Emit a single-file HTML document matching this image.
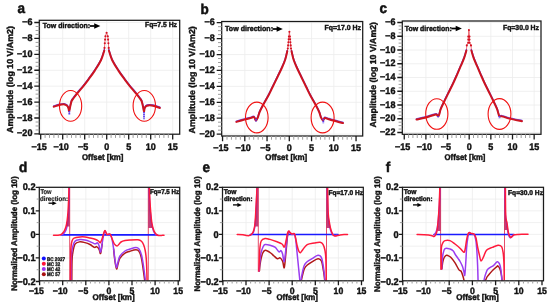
<!DOCTYPE html>
<html><head><meta charset="utf-8"><title>figure</title><style>html,body{margin:0;padding:0;background:#fff;width:550px;height:306px;overflow:hidden}svg{display:block;filter:blur(0.3px)}text{font-family:"Liberation Sans",Arial,sans-serif;font-weight:bold;fill:#111;stroke:#111;stroke-width:0.4px;paint-order:stroke;text-rendering:geometricPrecision}</style></head><body>
<svg width="550" height="306" viewBox="0 0 550 306">
<rect width="550" height="306" fill="#fff"/>
<path d="M40.7,20.3 V134.2 M62.7,20.3 V134.2 M84.7,20.3 V134.2 M106.7,20.3 V134.2 M128.7,20.3 V134.2 M150.7,20.3 V134.2 M172.7,20.3 V134.2 M39.3,22.5 H179.7 M39.3,38.42 H179.7 M39.3,54.34 H179.7 M39.3,70.26 H179.7 M39.3,86.18 H179.7 M39.3,102.1 H179.7 M39.3,118.02 H179.7" stroke="#ececec" stroke-width="0.8" fill="none"/>
<path d="M244.8,21.5 V136 M267.05,21.5 V136 M289.3,21.5 V136 M311.55,21.5 V136 M333.8,21.5 V136 M356.05,21.5 V136 M221.7,22.7 H362.7 M221.7,38.62 H362.7 M221.7,54.54 H362.7 M221.7,70.46 H362.7 M221.7,86.38 H362.7 M221.7,102.3 H362.7 M221.7,118.22 H362.7 M221.7,134.14 H362.7" stroke="#ececec" stroke-width="0.8" fill="none"/>
<path d="M404.25,21 V134.3 M425.9,21 V134.3 M447.55,21 V134.3 M469.2,21 V134.3 M490.85,21 V134.3 M512.5,21 V134.3 M534.15,21 V134.3 M402.3,22.5 H541 M402.3,36.25 H541 M402.3,50 H541 M402.3,63.75 H541 M402.3,77.5 H541 M402.3,91.25 H541 M402.3,105 H541 M402.3,118.75 H541 M402.3,132.5 H541" stroke="#ececec" stroke-width="0.8" fill="none"/>
<path d="M62.7,187.3 V280.8 M85.8,187.3 V280.8 M108.9,187.3 V280.8 M132,187.3 V280.8 M155.1,187.3 V280.8 M178.2,187.3 V280.8 M39.3,199.08 H179.7 M39.3,210.85 H179.7 M39.3,222.62 H179.7 M39.3,234.4 H179.7 M39.3,246.18 H179.7 M39.3,257.95 H179.7 M39.3,269.73 H179.7" stroke="#ececec" stroke-width="0.8" fill="none"/>
<path d="M246,187.3 V280.8 M269.1,187.3 V280.8 M292.2,187.3 V280.8 M315.3,187.3 V280.8 M338.4,187.3 V280.8 M361.5,187.3 V280.8 M222.5,199.08 H363.3 M222.5,210.85 H363.3 M222.5,222.62 H363.3 M222.5,234.4 H363.3 M222.5,246.18 H363.3 M222.5,257.95 H363.3 M222.5,269.73 H363.3" stroke="#ececec" stroke-width="0.8" fill="none"/>
<path d="M426,187.3 V280.8 M449.2,187.3 V280.8 M472.4,187.3 V280.8 M495.6,187.3 V280.8 M518.8,187.3 V280.8 M542,187.3 V280.8 M402.5,199.08 H543.5 M402.5,210.85 H543.5 M402.5,222.62 H543.5 M402.5,234.4 H543.5 M402.5,246.18 H543.5 M402.5,257.95 H543.5 M402.5,269.73 H543.5" stroke="#ececec" stroke-width="0.8" fill="none"/>
<clipPath id="clipa"><rect x="39.3" y="20.3" width="140.4" height="113.9"/></clipPath>
<g clip-path="url(#clipa)" fill="none" stroke-linejoin="round" stroke-linecap="round">
<path d="M104.3,50.5 L104.5,47.9 L104.8,43.2 L105.1,39.6 L105.4,36.2 L106.6,32.7 L107.8,36.2 L108.1,39.6 L108.4,43.2 L108.7,47.9 L108.9,50.5" stroke="#e8505a" stroke-width="0.8"/>
<path d="M53.7,106.7C54.63,106.4 57.52,105.28 59.3,104.9C61.08,104.52 63.15,104.28 64.4,104.4C65.65,104.52 66.13,105 66.8,105.6C67.47,106.2 68,107.03 68.4,108C68.8,108.97 68.9,111.65 69.2,111.4C69.5,111.15 69.8,108.23 70.2,106.5C70.6,104.77 71.02,102.42 71.6,101C72.18,99.58 72.83,99.2 73.7,98C74.57,96.8 75.35,95.58 76.8,93.8C78.25,92.02 80.43,89.72 82.4,87.3C84.37,84.88 86.53,82.08 88.6,79.3C90.67,76.52 92.72,73.82 94.8,70.6C96.88,67.38 99.52,63.35 101.1,60C102.68,56.65 103.77,52.08 104.3,50.5" transform="translate(0,-0.7)" stroke="#7048e0" stroke-width="1.5"/>
<path d="M108.9,50.5C109.43,52.08 110.52,56.65 112.1,60C113.68,63.35 116.32,67.38 118.4,70.6C120.48,73.82 122.53,76.52 124.6,79.3C126.67,82.08 128.83,84.88 130.8,87.3C132.77,89.72 134.95,92.02 136.4,93.8C137.85,95.58 138.63,96.8 139.5,98C140.37,99.2 141.02,99.58 141.6,101C142.18,102.42 142.6,104.77 143,106.5C143.4,108.23 143.73,111.07 144,111.4C144.27,111.73 144.27,109.37 144.6,108.5C144.93,107.63 145.35,106.72 146,106.2C146.65,105.68 147.33,105.48 148.5,105.4C149.67,105.32 151.1,105.27 153,105.7C154.9,106.13 158.75,107.62 159.9,108" transform="translate(0,-0.7)" stroke="#7048e0" stroke-width="1.5"/>
<path d="M53.7,106.7C54.63,106.4 57.52,105.28 59.3,104.9C61.08,104.52 63.15,104.28 64.4,104.4C65.65,104.52 66.13,105 66.8,105.6C67.47,106.2 68,107.03 68.4,108C68.8,108.97 68.9,111.65 69.2,111.4C69.5,111.15 69.8,108.23 70.2,106.5C70.6,104.77 71.02,102.42 71.6,101C72.18,99.58 72.83,99.2 73.7,98C74.57,96.8 75.35,95.58 76.8,93.8C78.25,92.02 80.43,89.72 82.4,87.3C84.37,84.88 86.53,82.08 88.6,79.3C90.67,76.52 92.72,73.82 94.8,70.6C96.88,67.38 99.52,63.35 101.1,60C102.68,56.65 103.77,52.08 104.3,50.5" stroke="#cc1420" stroke-width="2.0"/>
<path d="M108.9,50.5C109.43,52.08 110.52,56.65 112.1,60C113.68,63.35 116.32,67.38 118.4,70.6C120.48,73.82 122.53,76.52 124.6,79.3C126.67,82.08 128.83,84.88 130.8,87.3C132.77,89.72 134.95,92.02 136.4,93.8C137.85,95.58 138.63,96.8 139.5,98C140.37,99.2 141.02,99.58 141.6,101C142.18,102.42 142.6,104.77 143,106.5C143.4,108.23 143.73,111.07 144,111.4C144.27,111.73 144.27,109.37 144.6,108.5C144.93,107.63 145.35,106.72 146,106.2C146.65,105.68 147.33,105.48 148.5,105.4C149.67,105.32 151.1,105.27 153,105.7C154.9,106.13 158.75,107.62 159.9,108" stroke="#cc1420" stroke-width="2.0"/>
<circle cx="104.5" cy="47.9" r="1.05" fill="#d41020"/>
<circle cx="104.8" cy="43.2" r="1.05" fill="#d41020"/>
<circle cx="105.1" cy="39.6" r="1.05" fill="#d41020"/>
<circle cx="105.4" cy="36.2" r="1.05" fill="#d41020"/>
<circle cx="106.6" cy="32.7" r="1.05" fill="#d41020"/>
<circle cx="107.8" cy="36.2" r="1.05" fill="#d41020"/>
<circle cx="108.1" cy="39.6" r="1.05" fill="#d41020"/>
<circle cx="108.4" cy="43.2" r="1.05" fill="#d41020"/>
<circle cx="108.7" cy="47.9" r="1.05" fill="#d41020"/>
<path d="M69.3,111 V115" stroke="#5a3cf0" stroke-width="1.8" stroke-dasharray="1.3 0.5" stroke-linecap="butt"/>
<path d="M144,112 V119.6" stroke="#5a3cf0" stroke-width="1.8" stroke-dasharray="1.3 0.5" stroke-linecap="butt"/>
</g>
<clipPath id="clipb"><rect x="221.7" y="21.5" width="141" height="114.5"/></clipPath>
<g clip-path="url(#clipb)" fill="none" stroke-linejoin="round" stroke-linecap="round">
<path d="M287.3,51.1 L287.8,48.5 L288.1,45.4 L288.4,42.2 L288.7,39.2 L288.9,36.5 L289.4,31.8 L289.9,36.5 L290.1,39.2 L290.4,42.2 L290.7,45.4 L291,48.5 L291.5,51.1" stroke="#e8505a" stroke-width="0.8"/>
<path d="M236.4,121.9C237.88,121.48 242.78,120.08 245.3,119.4C247.82,118.72 250.05,118.2 251.5,117.8C252.95,117.4 253.27,116.55 254,117C254.73,117.45 255.25,120.45 255.9,120.5C256.55,120.55 257.28,118.7 257.9,117.3C258.52,115.9 258.75,114.1 259.6,112.1C260.45,110.1 261.48,108.15 263,105.3C264.52,102.45 267.12,98 268.7,95C270.28,92 271.03,90.3 272.5,87.3C273.97,84.3 275.95,80.22 277.5,77C279.05,73.78 280.53,70.83 281.8,68C283.07,65.17 284.18,62.82 285.1,60C286.02,57.18 286.93,52.58 287.3,51.1" transform="translate(0,-0.7)" stroke="#7048e0" stroke-width="1.5"/>
<path d="M291.5,51.1C291.87,52.58 292.78,57.18 293.7,60C294.62,62.82 295.73,65.17 297,68C298.27,70.83 299.75,73.78 301.3,77C302.85,80.22 304.83,84.3 306.3,87.3C307.77,90.3 308.52,92 310.1,95C311.68,98 314.28,102.45 315.8,105.3C317.32,108.15 318.35,110.1 319.2,112.1C320.05,114.1 320.28,115.9 320.9,117.3C321.52,118.7 322.25,120.38 322.9,120.5C323.55,120.62 324.03,118.28 324.8,118C325.57,117.72 326.13,118.38 327.5,118.8C328.87,119.22 330.4,119.78 333,120.5C335.6,121.22 341.42,122.67 343.1,123.1" transform="translate(0,-0.7)" stroke="#7048e0" stroke-width="1.5"/>
<path d="M236.4,121.9C237.88,121.48 242.78,120.08 245.3,119.4C247.82,118.72 250.05,118.2 251.5,117.8C252.95,117.4 253.27,116.55 254,117C254.73,117.45 255.25,120.45 255.9,120.5C256.55,120.55 257.28,118.7 257.9,117.3C258.52,115.9 258.75,114.1 259.6,112.1C260.45,110.1 261.48,108.15 263,105.3C264.52,102.45 267.12,98 268.7,95C270.28,92 271.03,90.3 272.5,87.3C273.97,84.3 275.95,80.22 277.5,77C279.05,73.78 280.53,70.83 281.8,68C283.07,65.17 284.18,62.82 285.1,60C286.02,57.18 286.93,52.58 287.3,51.1" stroke="#cc1420" stroke-width="2.0"/>
<path d="M291.5,51.1C291.87,52.58 292.78,57.18 293.7,60C294.62,62.82 295.73,65.17 297,68C298.27,70.83 299.75,73.78 301.3,77C302.85,80.22 304.83,84.3 306.3,87.3C307.77,90.3 308.52,92 310.1,95C311.68,98 314.28,102.45 315.8,105.3C317.32,108.15 318.35,110.1 319.2,112.1C320.05,114.1 320.28,115.9 320.9,117.3C321.52,118.7 322.25,120.38 322.9,120.5C323.55,120.62 324.03,118.28 324.8,118C325.57,117.72 326.13,118.38 327.5,118.8C328.87,119.22 330.4,119.78 333,120.5C335.6,121.22 341.42,122.67 343.1,123.1" stroke="#cc1420" stroke-width="2.0"/>
<circle cx="287.8" cy="48.5" r="1.05" fill="#d41020"/>
<circle cx="288.1" cy="45.4" r="1.05" fill="#d41020"/>
<circle cx="288.4" cy="42.2" r="1.05" fill="#d41020"/>
<circle cx="288.7" cy="39.2" r="1.05" fill="#d41020"/>
<circle cx="288.9" cy="36.5" r="1.05" fill="#d41020"/>
<circle cx="289.4" cy="31.8" r="1.05" fill="#d41020"/>
<circle cx="289.9" cy="36.5" r="1.05" fill="#d41020"/>
<circle cx="290.1" cy="39.2" r="1.05" fill="#d41020"/>
<circle cx="290.4" cy="42.2" r="1.05" fill="#d41020"/>
<circle cx="290.7" cy="45.4" r="1.05" fill="#d41020"/>
<circle cx="291" cy="48.5" r="1.05" fill="#d41020"/>
<path d="M256,119 V121.5" stroke="#5a3cf0" stroke-width="1.8" stroke-dasharray="1.3 0.5" stroke-linecap="butt"/>
<path d="M323.3,119 V123.3" stroke="#5a3cf0" stroke-width="1.8" stroke-dasharray="1.3 0.5" stroke-linecap="butt"/>
</g>
<clipPath id="clipc"><rect x="402.3" y="21" width="138.7" height="113.3"/></clipPath>
<g clip-path="url(#clipc)" fill="none" stroke-linejoin="round" stroke-linecap="round">
<path d="M466.4,50.5 L466.8,45.4 L468.2,42.8 L468.3,39.6 L468.3,36.6 L468.9,30.1 L469.5,36.6 L469.5,39.6 L469.6,42.8 L471,45.4 L471.4,50.5" stroke="#e8505a" stroke-width="0.8"/>
<path d="M416.5,119.6C417.92,119.28 422.5,118.35 425,117.7C427.5,117.05 429.65,116.23 431.5,115.7C433.35,115.17 434.92,114.45 436.1,114.5C437.28,114.55 437.83,116.88 438.6,116C439.37,115.12 439.8,111.53 440.7,109.2C441.6,106.87 442.7,104.73 444,102C445.3,99.27 446.98,95.88 448.5,92.8C450.02,89.72 451.68,86.5 453.1,83.5C454.52,80.5 455.7,77.77 457,74.8C458.3,71.83 459.7,68.53 460.9,65.7C462.1,62.87 463.28,60.33 464.2,57.8C465.12,55.27 466.03,51.72 466.4,50.5" transform="translate(0,-0.7)" stroke="#7048e0" stroke-width="1.5"/>
<path d="M471.4,50.5C471.77,51.72 472.68,55.27 473.6,57.8C474.52,60.33 475.7,62.87 476.9,65.7C478.1,68.53 479.5,71.83 480.8,74.8C482.1,77.77 483.28,80.5 484.7,83.5C486.12,86.5 487.78,89.72 489.3,92.8C490.82,95.88 492.5,99.27 493.8,102C495.1,104.73 496.2,106.87 497.1,109.2C498,111.53 498.5,114.82 499.2,116C499.9,117.18 500.5,116.15 501.3,116.3C502.1,116.45 502.65,116.52 504,116.9C505.35,117.28 506.42,117.88 509.4,118.6C512.38,119.32 519.82,120.77 521.9,121.2" transform="translate(0,-0.7)" stroke="#7048e0" stroke-width="1.5"/>
<path d="M416.5,119.6C417.92,119.28 422.5,118.35 425,117.7C427.5,117.05 429.65,116.23 431.5,115.7C433.35,115.17 434.92,114.45 436.1,114.5C437.28,114.55 437.83,116.88 438.6,116C439.37,115.12 439.8,111.53 440.7,109.2C441.6,106.87 442.7,104.73 444,102C445.3,99.27 446.98,95.88 448.5,92.8C450.02,89.72 451.68,86.5 453.1,83.5C454.52,80.5 455.7,77.77 457,74.8C458.3,71.83 459.7,68.53 460.9,65.7C462.1,62.87 463.28,60.33 464.2,57.8C465.12,55.27 466.03,51.72 466.4,50.5" stroke="#cc1420" stroke-width="2.0"/>
<path d="M471.4,50.5C471.77,51.72 472.68,55.27 473.6,57.8C474.52,60.33 475.7,62.87 476.9,65.7C478.1,68.53 479.5,71.83 480.8,74.8C482.1,77.77 483.28,80.5 484.7,83.5C486.12,86.5 487.78,89.72 489.3,92.8C490.82,95.88 492.5,99.27 493.8,102C495.1,104.73 496.2,106.87 497.1,109.2C498,111.53 498.5,114.82 499.2,116C499.9,117.18 500.5,116.15 501.3,116.3C502.1,116.45 502.65,116.52 504,116.9C505.35,117.28 506.42,117.88 509.4,118.6C512.38,119.32 519.82,120.77 521.9,121.2" stroke="#cc1420" stroke-width="2.0"/>
<circle cx="466.8" cy="45.4" r="1.05" fill="#d41020"/>
<circle cx="468.2" cy="42.8" r="1.05" fill="#d41020"/>
<circle cx="468.3" cy="39.6" r="1.05" fill="#d41020"/>
<circle cx="468.3" cy="36.6" r="1.05" fill="#d41020"/>
<circle cx="468.9" cy="30.1" r="1.05" fill="#d41020"/>
<circle cx="469.5" cy="36.6" r="1.05" fill="#d41020"/>
<circle cx="469.5" cy="39.6" r="1.05" fill="#d41020"/>
<circle cx="469.6" cy="42.8" r="1.05" fill="#d41020"/>
<circle cx="471" cy="45.4" r="1.05" fill="#d41020"/>
<path d="M438,116 V117.5" stroke="#5a3cf0" stroke-width="1.8" stroke-dasharray="1.3 0.5" stroke-linecap="butt"/>
<path d="M499.4,116 V118.2" stroke="#5a3cf0" stroke-width="1.8" stroke-dasharray="1.3 0.5" stroke-linecap="butt"/>
</g>
<ellipse cx="70.6" cy="105.9" rx="11.1" ry="15.4" fill="none" stroke="#f01010" stroke-width="1.1"/>
<ellipse cx="144.3" cy="105.9" rx="11.2" ry="15.4" fill="none" stroke="#f01010" stroke-width="1.1"/>
<ellipse cx="256.8" cy="117.5" rx="11.3" ry="15.4" fill="none" stroke="#f01010" stroke-width="1.1"/>
<ellipse cx="322.6" cy="117.5" rx="11.5" ry="15.4" fill="none" stroke="#f01010" stroke-width="1.1"/>
<ellipse cx="436.8" cy="114" rx="11.1" ry="15.3" fill="none" stroke="#f01010" stroke-width="1.1"/>
<ellipse cx="499.5" cy="114" rx="11.4" ry="15.4" fill="none" stroke="#f01010" stroke-width="1.1"/>
<clipPath id="clipd"><rect x="39.3" y="187.6" width="140.4" height="92.9"/></clipPath>
<g clip-path="url(#clipd)" fill="none" stroke-linejoin="round" stroke-linecap="round">
<path d="M69.7,186 V282" stroke="#e23a5a" stroke-width="0.9"/>
<path d="M148.3,186 V282" stroke="#e23a5a" stroke-width="0.9"/>
<path d="M61,234.8 H157" stroke="#1a1aff" stroke-width="1.7"/>
<path d="M71.8,282C71.83,278.67 71.87,266.67 72,262C72.13,257.33 72.1,256.97 72.6,254C73.1,251.03 73.77,246.23 75,244.2C76.23,242.17 78.33,242.07 80,241.8C81.67,241.53 83.33,242.15 85,242.6C86.67,243.05 88.42,243.7 90,244.5C91.58,245.3 93.42,247.05 94.5,247.4C95.58,247.75 95.75,246.33 96.5,246.6C97.25,246.87 98.32,247.85 99,249C99.68,250.15 100.07,254.33 100.6,253.5C101.13,252.67 101.93,245.58 102.2,244" stroke="#b01818" stroke-width="1.5"/>
<path d="M113.6,249C113.83,251.08 114.5,258.17 115,261.5C115.5,264.83 116.1,268.58 116.6,269C117.1,269.42 117.43,265.8 118,264C118.57,262.2 118.83,260 120,258.2C121.17,256.4 123.33,254.37 125,253.2C126.67,252.03 128.17,251.77 130,251.2C131.83,250.63 134.5,249.77 136,249.8C137.5,249.83 138.12,250.12 139,251.4C139.88,252.68 140.63,254.73 141.3,257.5C141.97,260.27 142.4,263.92 143,268C143.6,272.08 144.58,279.67 144.9,282" stroke="#b01818" stroke-width="1.5"/>
<path d="M61.5,235C61.92,234.7 63.22,234.12 64,233.2C64.78,232.28 65.6,231.2 66.2,229.5C66.8,227.8 67.22,225.58 67.6,223C67.98,220.42 68.27,217.5 68.5,214C68.73,210.5 68.87,206.67 69,202C69.13,197.33 69.25,188.67 69.3,186" stroke="#9a3cf0" stroke-width="1.5"/>
<path d="M71,282C71.03,278.67 71.03,267.33 71.2,262C71.37,256.67 71.37,253.45 72,250C72.63,246.55 73.67,243.03 75,241.3C76.33,239.57 78.33,239.82 80,239.6C81.67,239.38 83.33,239.67 85,240C86.67,240.33 88.5,241 90,241.6C91.5,242.2 93,243.27 94,243.6C95,243.93 95.42,243.73 96,243.6C96.58,243.47 97,242.48 97.5,242.8C98,243.12 98.48,243.97 99,245.5C99.52,247.03 100.07,252.42 100.6,252C101.13,251.58 101.67,246 102.2,243C102.73,240 103.33,236.03 103.8,234C104.27,231.97 104.6,230.93 105,230.8C105.4,230.67 105.83,232.53 106.2,233.2C106.57,233.87 106.73,234.63 107.2,234.8C107.67,234.97 108.48,234.23 109,234.2C109.52,234.17 109.8,233.8 110.3,234.6C110.8,235.4 111.47,236.77 112,239C112.53,241.23 113,244.5 113.5,248C114,251.5 114.5,256.75 115,260C115.5,263.25 116,267.17 116.5,267.5C117,267.83 117.42,263.92 118,262C118.58,260.08 118.83,257.83 120,256C121.17,254.17 123.33,252.17 125,251C126.67,249.83 128.17,249.6 130,249C131.83,248.4 134.5,247.4 136,247.4C137.5,247.4 138.08,247.73 139,249C139.92,250.27 140.75,252.17 141.5,255C142.25,257.83 142.82,261.5 143.5,266C144.18,270.5 145.25,279.33 145.6,282" stroke="#9a3cf0" stroke-width="1.5"/>
<path d="M149,186C149.08,188.33 149.28,195.67 149.5,200C149.72,204.33 149.97,208.17 150.3,212C150.63,215.83 150.97,219.83 151.5,223C152.03,226.17 152.78,229.07 153.5,231C154.22,232.93 155.05,233.88 155.8,234.6C156.55,235.32 157.63,235.18 158,235.3" stroke="#9a3cf0" stroke-width="1.5"/>
<path d="M53.5,235.3C54.25,235.3 56.83,235.38 58,235.3C59.17,235.22 59.75,235.15 60.5,234.8C61.25,234.45 61.83,233.92 62.5,233.2C63.17,232.48 63.92,231.62 64.5,230.5C65.08,229.38 65.55,228.25 66,226.5C66.45,224.75 66.87,222.42 67.2,220C67.53,217.58 67.77,215.33 68,212C68.23,208.67 68.43,204.33 68.6,200C68.77,195.67 68.93,188.33 69,186" stroke="#ff1a3c" stroke-width="1.5"/>
<path d="M70.5,282C70.53,278.67 70.63,267.67 70.7,262C70.77,256.33 70.68,251.5 70.9,248C71.12,244.5 71.48,242.63 72,241C72.52,239.37 72.67,238.87 74,238.2C75.33,237.53 78.17,237.2 80,237C81.83,236.8 83.33,236.83 85,237C86.67,237.17 88.33,237.63 90,238C91.67,238.37 93.58,238.7 95,239.2C96.42,239.7 97.63,240.4 98.5,241C99.37,241.6 99.62,243.13 100.2,242.8C100.78,242.47 101.4,240.63 102,239C102.6,237.37 103.3,234.4 103.8,233C104.3,231.6 104.6,230.6 105,230.6C105.4,230.6 105.83,232.33 106.2,233C106.57,233.67 106.73,234.43 107.2,234.6C107.67,234.77 108.48,234.03 109,234C109.52,233.97 109.8,233.65 110.3,234.4C110.8,235.15 111.3,236.87 112,238.5C112.7,240.13 113.67,242.95 114.5,244.2C115.33,245.45 116.25,246 117,246C117.75,246 118.33,244.87 119,244.2C119.67,243.53 120,242.6 121,242C122,241.4 123.5,240.93 125,240.6C126.5,240.27 127.83,240.13 130,240C132.17,239.87 136.08,239.58 138,239.8C139.92,240.02 140.57,240.47 141.5,241.3C142.43,242.13 142.98,243.27 143.6,244.8C144.22,246.33 144.77,248.3 145.2,250.5C145.63,252.7 145.93,254.75 146.2,258C146.47,261.25 146.65,266 146.8,270C146.95,274 147.05,280 147.1,282" stroke="#ff1a3c" stroke-width="1.5"/>
<path d="M149.4,186C149.48,188.33 149.68,195.67 149.9,200C150.12,204.33 150.35,208 150.7,212C151.05,216 151.45,220.83 152,224C152.55,227.17 153.25,229.23 154,231C154.75,232.77 155.67,233.85 156.5,234.6C157.33,235.35 158.17,235.37 159,235.5C159.83,235.63 160.67,235.43 161.5,235.4C162.33,235.37 163.58,235.32 164,235.3" stroke="#ff1a3c" stroke-width="1.5"/>
<path d="M66.55,226.5 L67.75,220 L68.55,212 L69.15,200 L69.55,186 L69.7,186 L69.7,226.5 Z" fill="#b81e64" stroke="none" opacity="0.85"/>
<path d="M148.85,186 L149.35,200 L150.15,212 L151.45,224 L152.45,228 L148.3,228 L148.3,186 Z" fill="#b81e64" stroke="none" opacity="0.85"/>
</g>
<clipPath id="clipe"><rect x="222.5" y="187.6" width="140.8" height="92.9"/></clipPath>
<g clip-path="url(#clipe)" fill="none" stroke-linejoin="round" stroke-linecap="round">
<path d="M258.3,186 V271.5" stroke="#e23a5a" stroke-width="0.9"/>
<path d="M326.5,186 V282" stroke="#e23a5a" stroke-width="0.9"/>
<path d="M250.4,234.5 H338" stroke="#1a1aff" stroke-width="1.7"/>
<path d="M259.4,271C259.5,270 259.7,267.17 260,265C260.3,262.83 260.7,260.08 261.2,258C261.7,255.92 262.28,253.78 263,252.5C263.72,251.22 264.22,250.22 265.5,250.3C266.78,250.38 269.28,252.05 270.7,253C272.12,253.95 272.87,255.03 274,256C275.13,256.97 276.48,258.5 277.5,258.8C278.52,259.1 279.23,257.35 280.1,257.8C280.97,258.25 282,259.87 282.7,261.5C283.4,263.13 283.75,269.18 284.3,267.6C284.85,266.02 285.48,257.1 286,252C286.52,246.9 286.97,240.37 287.4,237C287.83,233.63 288.4,232.67 288.6,231.8" stroke="#b01818" stroke-width="1.5"/>
<path d="M301,282C301.3,280.67 302.22,276.25 302.8,274C303.38,271.75 303.75,270 304.5,268.5C305.25,267 306.05,266.12 307.3,265C308.55,263.88 310.22,262.83 312,261.8C313.78,260.77 316.43,258.93 318,258.8C319.57,258.67 320.48,258.97 321.4,261C322.32,263.03 322.92,267.5 323.5,271C324.08,274.5 324.67,280.17 324.9,282" stroke="#b01818" stroke-width="1.5"/>
<path d="M250.4,235C250.77,234.77 252,234.35 252.6,233.6C253.2,232.85 253.57,232.1 254,230.5C254.43,228.9 254.87,226.75 255.2,224C255.53,221.25 255.77,218 256,214C256.23,210 256.43,204.67 256.6,200C256.77,195.33 256.93,188.33 257,186" stroke="#9a3cf0" stroke-width="1.5"/>
<path d="M259.2,271C259.3,269.5 259.5,265 259.8,262C260.1,259 260.47,255.5 261,253C261.53,250.5 262.33,248.4 263,247C263.67,245.6 263.83,244.9 265,244.6C266.17,244.3 268.33,244.77 270,245.2C271.67,245.63 273.5,246.1 275,247.2C276.5,248.3 278,251.23 279,251.8C280,252.37 280.4,250.23 281,250.6C281.6,250.97 282.07,252.18 282.6,254C283.13,255.82 283.67,262.17 284.2,261.5C284.73,260.83 285.27,254.25 285.8,250C286.33,245.75 286.9,239.1 287.4,236C287.9,232.9 288.37,231.9 288.8,231.4C289.23,230.9 289.47,232.5 290,233C290.53,233.5 291.28,234.23 292,234.4C292.72,234.57 293.7,233.23 294.3,234C294.9,234.77 295.15,236 295.6,239C296.05,242 296.5,247.17 297,252C297.5,256.83 298.1,263 298.6,268C299.1,273 299.77,279.67 300,282" stroke="#9a3cf0" stroke-width="1.5"/>
<path d="M300.6,282C300.92,280.33 301.88,274.78 302.5,272C303.12,269.22 303.53,267 304.3,265.3C305.07,263.6 305.82,262.92 307.1,261.8C308.38,260.68 310.18,259.68 312,258.6C313.82,257.52 316.4,255.4 318,255.3C319.6,255.2 320.65,255.72 321.6,258C322.55,260.28 323.1,265 323.7,269C324.3,273 324.95,279.83 325.2,282" stroke="#9a3cf0" stroke-width="1.5"/>
<path d="M327.2,186C327.3,190.5 327.5,206.83 327.8,213C328.1,219.17 328.55,220.17 329,223C329.45,225.83 329.92,228.1 330.5,230C331.08,231.9 331.83,233.47 332.5,234.4C333.17,235.33 333.75,235.47 334.5,235.6C335.25,235.73 336.58,235.27 337,235.2" stroke="#9a3cf0" stroke-width="1.5"/>
<path d="M237.2,234.6C238.17,234.63 241.4,234.65 243,234.8C244.6,234.95 245.8,235.37 246.8,235.5C247.8,235.63 248.37,235.68 249,235.6C249.63,235.52 250.07,235.37 250.6,235C251.13,234.63 251.73,234.03 252.2,233.4C252.67,232.77 253,232.35 253.4,231.2C253.8,230.05 254.27,228.7 254.6,226.5C254.93,224.3 255.17,221.25 255.4,218C255.63,214.75 255.8,210.67 256,207C256.2,203.33 256.42,199.5 256.6,196C256.78,192.5 257.02,187.67 257.1,186" stroke="#ff1a3c" stroke-width="1.5"/>
<path d="M258.9,271C258.98,268.83 259.23,261.83 259.4,258C259.57,254.17 259.6,250.83 259.9,248C260.2,245.17 260.35,242.57 261.2,241C262.05,239.43 263.53,238.87 265,238.6C266.47,238.33 268,238.87 270,239.4C272,239.93 275,241.03 277,241.8C279,242.57 280.77,243.13 282,244C283.23,244.87 283.7,247.67 284.4,247C285.1,246.33 285.67,242.33 286.2,240C286.73,237.67 287.17,234.5 287.6,233C288.03,231.5 288.4,231.07 288.8,231C289.2,230.93 289.47,232.1 290,232.6C290.53,233.1 291.28,233.83 292,234C292.72,234.17 293.7,232.93 294.3,233.6C294.9,234.27 295.12,235.93 295.6,238C296.08,240.07 296.63,243.75 297.2,246C297.77,248.25 298.43,250.4 299,251.5C299.57,252.6 299.95,252.93 300.6,252.6C301.25,252.27 301.8,250.83 302.9,249.5C304,248.17 305.28,245.68 307.2,244.6C309.12,243.52 312.25,243.38 314.4,243C316.55,242.62 318.67,242.07 320.1,242.3C321.53,242.53 322.18,243.03 323,244.4C323.82,245.77 324.52,247.9 325,250.5C325.48,253.1 325.68,254.75 325.9,260C326.12,265.25 326.23,278.33 326.3,282" stroke="#ff1a3c" stroke-width="1.5"/>
<path d="M327.6,186C327.7,190.5 327.88,206.83 328.2,213C328.52,219.17 329.03,220.17 329.5,223C329.97,225.83 330.42,228.03 331,230C331.58,231.97 332.33,233.8 333,234.8C333.67,235.8 334.25,235.87 335,236C335.75,236.13 336.67,235.77 337.5,235.6C338.33,235.43 338.92,235.18 340,235C341.08,234.82 342.75,234.6 344,234.5C345.25,234.4 346.92,234.42 347.5,234.4" stroke="#ff1a3c" stroke-width="1.5"/>
<path d="M255.15,226.5 L255.95,218 L256.55,207 L257.15,196 L257.75,186 L258.3,186 L258.3,226.5 Z" fill="#b81e64" stroke="none" opacity="0.85"/>
<path d="M327.05,186 L327.65,213 L328.95,223 L329.95,228 L326.5,228 L326.5,186 Z" fill="#b81e64" stroke="none" opacity="0.85"/>
</g>
<clipPath id="clipf"><rect x="402.5" y="187.6" width="141" height="92.9"/></clipPath>
<g clip-path="url(#clipf)" fill="none" stroke-linejoin="round" stroke-linecap="round">
<path d="M440.6,186 V269.5" stroke="#e23a5a" stroke-width="0.9"/>
<path d="M504.5,186 V282" stroke="#e23a5a" stroke-width="0.9"/>
<path d="M434,234.5 H514" stroke="#1a1aff" stroke-width="1.7"/>
<path d="M441.9,269C442.02,268 442.35,264.6 442.6,263C442.85,261.4 443,260.5 443.4,259.4C443.8,258.3 444.47,257.1 445,256.4C445.53,255.7 446.1,255.33 446.6,255.2C447.1,255.07 447.32,255.25 448,255.6C448.68,255.95 449.55,256.13 450.7,257.3C451.85,258.47 453.52,260.5 454.9,262.6C456.28,264.7 457.95,268.43 459,269.9C460.05,271.37 460.5,270.22 461.2,271.4C461.9,272.58 462.68,275.23 463.2,277C463.72,278.77 464.12,281.17 464.3,282" stroke="#b01818" stroke-width="1.5"/>
<path d="M485,282C485.33,281.17 486.27,278.33 487,277C487.73,275.67 488.4,275.17 489.4,274C490.4,272.83 491.8,271.2 493,270C494.2,268.8 495.77,267.47 496.6,266.8C497.43,266.13 497.4,265.52 498,266C498.6,266.48 499.6,268.03 500.2,269.7C500.8,271.37 501.27,273.95 501.6,276C501.93,278.05 502.1,281 502.2,282" stroke="#b01818" stroke-width="1.5"/>
<path d="M434,234.8C434.3,234.43 435.25,233.73 435.8,232.6C436.35,231.47 436.87,230.27 437.3,228C437.73,225.73 438.05,222.83 438.4,219C438.75,215.17 439.12,210.5 439.4,205C439.68,199.5 439.98,189.17 440.1,186" stroke="#9a3cf0" stroke-width="1.5"/>
<path d="M441.7,269C441.75,267.83 441.78,264.5 442,262C442.22,259.5 442.5,256.23 443,254C443.5,251.77 443.83,249.43 445,248.6C446.17,247.77 448.62,248.6 450,249C451.38,249.4 452.47,250.17 453.3,251C454.13,251.83 454.22,252.77 455,254C455.78,255.23 457.15,257.15 458,258.4C458.85,259.65 459.35,260.15 460.1,261.5C460.85,262.85 461.85,264.75 462.5,266.5C463.15,268.25 463.62,270.58 464,272C464.38,273.42 464.48,276.92 464.8,275C465.12,273.08 465.6,265 465.9,260.5C466.2,256 466.25,252 466.6,248C466.95,244 467.57,239.07 468,236.5C468.43,233.93 468.7,233.08 469.2,232.6C469.7,232.12 470.2,233.32 471,233.6C471.8,233.88 473.2,233.23 474,234.3C474.8,235.37 475.33,237.38 475.8,240C476.27,242.62 476.5,245.83 476.8,250C477.1,254.17 477.38,259.67 477.6,265C477.82,270.33 478.02,279.17 478.1,282" stroke="#9a3cf0" stroke-width="1.5"/>
<path d="M484,282C484.07,281.38 484.07,279.8 484.4,278.3C484.73,276.8 485.4,274.55 486,273C486.6,271.45 486.72,270.28 488,269C489.28,267.72 492.15,266.52 493.7,265.3C495.25,264.08 496.33,261.93 497.3,261.7C498.27,261.47 498.88,262.52 499.5,263.9C500.12,265.28 500.58,266.98 501,270C501.42,273.02 501.83,280 502,282" stroke="#9a3cf0" stroke-width="1.5"/>
<path d="M505,186C505.07,190.83 505.13,208.83 505.4,215C505.67,221.17 506.15,220 506.6,223C507.05,226 507.52,230.57 508.1,233C508.68,235.43 509.42,237.1 510.1,237.6C510.78,238.1 511.55,236.5 512.2,236C512.85,235.5 513.7,234.83 514,234.6" stroke="#9a3cf0" stroke-width="1.5"/>
<path d="M417.1,234.6C418.25,234.63 421.67,234.67 424,234.8C426.33,234.93 429.43,235.1 431.1,235.4C432.77,235.7 433.25,236.7 434,236.6C434.75,236.5 435.1,235.75 435.6,234.8C436.1,233.85 436.55,233.53 437,230.9C437.45,228.27 437.93,223.32 438.3,219C438.67,214.68 438.93,210.5 439.2,205C439.47,199.5 439.78,189.17 439.9,186" stroke="#ff1a3c" stroke-width="1.5"/>
<path d="M441.4,269C441.37,267.17 441.18,261.67 441.2,258C441.22,254.33 441.2,249.58 441.5,247C441.8,244.42 442.42,243.57 443,242.5C443.58,241.43 443.83,240.92 445,240.6C446.17,240.28 448.33,240.03 450,240.6C451.67,241.17 453.33,242.73 455,244C456.67,245.27 458.53,246.83 460,248.2C461.47,249.57 462.97,251.9 463.8,252.2C464.63,252.5 464.53,252.03 465,250C465.47,247.97 466.1,242.67 466.6,240C467.1,237.33 467.57,235.27 468,234C468.43,232.73 468.7,232.5 469.2,232.4C469.7,232.3 470.2,233.13 471,233.4C471.8,233.67 473.17,233.23 474,234C474.83,234.77 475.4,235.83 476,238C476.6,240.17 477.03,244.17 477.6,247C478.17,249.83 478.83,252.67 479.4,255C479.97,257.33 480.3,260.72 481,261C481.7,261.28 482.68,258.5 483.6,256.7C484.52,254.9 485.05,251.75 486.5,250.2C487.95,248.65 490.38,248.23 492.3,247.4C494.22,246.57 496.45,245.33 498,245.2C499.55,245.07 500.75,245.4 501.6,246.6C502.45,247.8 502.72,249.83 503.1,252.4C503.48,254.97 503.7,257.07 503.9,262C504.1,266.93 504.23,278.67 504.3,282" stroke="#ff1a3c" stroke-width="1.5"/>
<path d="M505.4,186C505.45,190.83 505.43,208.83 505.7,215C505.97,221.17 506.53,220 507,223C507.47,226 507.92,230.6 508.5,233C509.08,235.4 509.83,236.87 510.5,237.4C511.17,237.93 511.92,236.63 512.5,236.2C513.08,235.77 513.08,235.1 514,234.8C514.92,234.5 516.5,234.48 518,234.4C519.5,234.32 521.33,234.32 523,234.3C524.67,234.28 527.17,234.3 528,234.3" stroke="#ff1a3c" stroke-width="1.5"/>
<path d="M437.55,230.9 L438.85,219 L439.75,205 L440.45,186 L440.6,186 L440.6,230.9 Z" fill="#b81e64" stroke="none" opacity="0.85"/>
<path d="M504.85,186 L505.15,215 L506.45,223 L507.45,230 L504.5,230 L504.5,186 Z" fill="#b81e64" stroke="none" opacity="0.85"/>
</g>
<rect x="39.3" y="20.3" width="140.4" height="113.9" fill="none" stroke="#1a1a1a" stroke-width="1.25"/>
<path d="M40.7,134.2 V139.4 M62.7,134.2 V139.4 M84.7,134.2 V139.4 M106.7,134.2 V139.4 M128.7,134.2 V139.4 M150.7,134.2 V139.4 M172.7,134.2 V139.4 M39.3,133.94 H34.3 M39.3,118.02 H34.3 M39.3,102.1 H34.3 M39.3,86.18 H34.3 M39.3,70.26 H34.3 M39.3,54.34 H34.3 M39.3,38.42 H34.3 M39.3,22.5 H34.3" stroke="#1a1a1a" stroke-width="1.3" fill="none"/>
<path d="M45.1,134.2 V137.9 M49.5,134.2 V137.9 M53.9,134.2 V137.9 M58.3,134.2 V137.9 M67.1,134.2 V137.9 M71.5,134.2 V137.9 M75.9,134.2 V137.9 M80.3,134.2 V137.9 M89.1,134.2 V137.9 M93.5,134.2 V137.9 M97.9,134.2 V137.9 M102.3,134.2 V137.9 M111.1,134.2 V137.9 M115.5,134.2 V137.9 M119.9,134.2 V137.9 M124.3,134.2 V137.9 M133.1,134.2 V137.9 M137.5,134.2 V137.9 M141.9,134.2 V137.9 M146.3,134.2 V137.9 M155.1,134.2 V137.9 M159.5,134.2 V137.9 M163.9,134.2 V137.9 M168.3,134.2 V137.9 M39.3,129.96 H35.6 M39.3,125.98 H35.6 M39.3,122 H35.6 M39.3,114.04 H35.6 M39.3,110.06 H35.6 M39.3,106.08 H35.6 M39.3,98.12 H35.6 M39.3,94.14 H35.6 M39.3,90.16 H35.6 M39.3,82.2 H35.6 M39.3,78.22 H35.6 M39.3,74.24 H35.6 M39.3,66.28 H35.6 M39.3,62.3 H35.6 M39.3,58.32 H35.6 M39.3,50.36 H35.6 M39.3,46.38 H35.6 M39.3,42.4 H35.6 M39.3,34.44 H35.6 M39.3,30.46 H35.6 M39.3,26.48 H35.6" stroke="#9c9c9c" stroke-width="1.0" fill="none"/>
<text transform="translate(39.1,149.55) scale(1,1.06)" font-size="9" text-anchor="middle">−15</text>
<text transform="translate(61.1,149.55) scale(1,1.06)" font-size="9" text-anchor="middle">−10</text>
<text transform="translate(83.1,149.55) scale(1,1.06)" font-size="9" text-anchor="middle">−5</text>
<text transform="translate(106.7,149.55) scale(1,1.06)" font-size="9" text-anchor="middle">0</text>
<text transform="translate(128.7,149.55) scale(1,1.06)" font-size="9" text-anchor="middle">5</text>
<text transform="translate(150.7,149.55) scale(1,1.06)" font-size="9" text-anchor="middle">10</text>
<text transform="translate(172.7,149.55) scale(1,1.06)" font-size="9" text-anchor="middle">15</text>
<text transform="translate(32.4,25) scale(1,1.06)" font-size="9" text-anchor="end">−6</text>
<text transform="translate(32.4,40.92) scale(1,1.06)" font-size="9" text-anchor="end">−8</text>
<text transform="translate(32.4,56.84) scale(1,1.06)" font-size="9" text-anchor="end">−10</text>
<text transform="translate(32.4,72.76) scale(1,1.06)" font-size="9" text-anchor="end">−12</text>
<text transform="translate(32.4,88.68) scale(1,1.06)" font-size="9" text-anchor="end">−14</text>
<text transform="translate(32.4,104.6) scale(1,1.06)" font-size="9" text-anchor="end">−16</text>
<text transform="translate(32.4,120.52) scale(1,1.06)" font-size="9" text-anchor="end">−18</text>
<text transform="translate(32.4,136.44) scale(1,1.06)" font-size="9" text-anchor="end">−20</text>
<rect x="221.7" y="21.5" width="141" height="114.5" fill="none" stroke="#1a1a1a" stroke-width="1.25"/>
<path d="M222.55,136 V141.2 M244.8,136 V141.2 M267.05,136 V141.2 M289.3,136 V141.2 M311.55,136 V141.2 M333.8,136 V141.2 M356.05,136 V141.2 M221.7,134.14 H216.7 M221.7,118.22 H216.7 M221.7,102.3 H216.7 M221.7,86.38 H216.7 M221.7,70.46 H216.7 M221.7,54.54 H216.7 M221.7,38.62 H216.7 M221.7,22.7 H216.7" stroke="#1a1a1a" stroke-width="1.3" fill="none"/>
<path d="M227,136 V139.7 M231.45,136 V139.7 M235.9,136 V139.7 M240.35,136 V139.7 M249.25,136 V139.7 M253.7,136 V139.7 M258.15,136 V139.7 M262.6,136 V139.7 M271.5,136 V139.7 M275.95,136 V139.7 M280.4,136 V139.7 M284.85,136 V139.7 M293.75,136 V139.7 M298.2,136 V139.7 M302.65,136 V139.7 M307.1,136 V139.7 M316,136 V139.7 M320.45,136 V139.7 M324.9,136 V139.7 M329.35,136 V139.7 M338.25,136 V139.7 M342.7,136 V139.7 M347.15,136 V139.7 M351.6,136 V139.7 M221.7,130.16 H218 M221.7,126.18 H218 M221.7,122.2 H218 M221.7,114.24 H218 M221.7,110.26 H218 M221.7,106.28 H218 M221.7,98.32 H218 M221.7,94.34 H218 M221.7,90.36 H218 M221.7,82.4 H218 M221.7,78.42 H218 M221.7,74.44 H218 M221.7,66.48 H218 M221.7,62.5 H218 M221.7,58.52 H218 M221.7,50.56 H218 M221.7,46.58 H218 M221.7,42.6 H218 M221.7,34.64 H218 M221.7,30.66 H218 M221.7,26.68 H218" stroke="#9c9c9c" stroke-width="1.0" fill="none"/>
<text transform="translate(220.95,151.35) scale(1,1.06)" font-size="9" text-anchor="middle">−15</text>
<text transform="translate(243.2,151.35) scale(1,1.06)" font-size="9" text-anchor="middle">−10</text>
<text transform="translate(265.45,151.35) scale(1,1.06)" font-size="9" text-anchor="middle">−5</text>
<text transform="translate(289.3,151.35) scale(1,1.06)" font-size="9" text-anchor="middle">0</text>
<text transform="translate(311.55,151.35) scale(1,1.06)" font-size="9" text-anchor="middle">5</text>
<text transform="translate(333.8,151.35) scale(1,1.06)" font-size="9" text-anchor="middle">10</text>
<text transform="translate(356.05,151.35) scale(1,1.06)" font-size="9" text-anchor="middle">15</text>
<text transform="translate(214.8,25.2) scale(1,1.06)" font-size="9" text-anchor="end">−6</text>
<text transform="translate(214.8,41.12) scale(1,1.06)" font-size="9" text-anchor="end">−8</text>
<text transform="translate(214.8,57.04) scale(1,1.06)" font-size="9" text-anchor="end">−10</text>
<text transform="translate(214.8,72.96) scale(1,1.06)" font-size="9" text-anchor="end">−12</text>
<text transform="translate(214.8,88.88) scale(1,1.06)" font-size="9" text-anchor="end">−14</text>
<text transform="translate(214.8,104.8) scale(1,1.06)" font-size="9" text-anchor="end">−16</text>
<text transform="translate(214.8,120.72) scale(1,1.06)" font-size="9" text-anchor="end">−18</text>
<text transform="translate(214.8,136.64) scale(1,1.06)" font-size="9" text-anchor="end">−20</text>
<rect x="402.3" y="21" width="138.7" height="113.3" fill="none" stroke="#1a1a1a" stroke-width="1.25"/>
<path d="M404.25,134.3 V139.5 M425.9,134.3 V139.5 M447.55,134.3 V139.5 M469.2,134.3 V139.5 M490.85,134.3 V139.5 M512.5,134.3 V139.5 M534.15,134.3 V139.5 M402.3,132.5 H397.3 M402.3,118.75 H397.3 M402.3,105 H397.3 M402.3,91.25 H397.3 M402.3,77.5 H397.3 M402.3,63.75 H397.3 M402.3,50 H397.3 M402.3,36.25 H397.3 M402.3,22.5 H397.3" stroke="#1a1a1a" stroke-width="1.3" fill="none"/>
<path d="M408.58,134.3 V138 M412.91,134.3 V138 M417.24,134.3 V138 M421.57,134.3 V138 M430.23,134.3 V138 M434.56,134.3 V138 M438.89,134.3 V138 M443.22,134.3 V138 M451.88,134.3 V138 M456.21,134.3 V138 M460.54,134.3 V138 M464.87,134.3 V138 M473.53,134.3 V138 M477.86,134.3 V138 M482.19,134.3 V138 M486.52,134.3 V138 M495.18,134.3 V138 M499.51,134.3 V138 M503.84,134.3 V138 M508.17,134.3 V138 M516.83,134.3 V138 M521.16,134.3 V138 M525.49,134.3 V138 M529.82,134.3 V138 M402.3,129.06 H398.6 M402.3,125.62 H398.6 M402.3,122.19 H398.6 M402.3,115.31 H398.6 M402.3,111.88 H398.6 M402.3,108.44 H398.6 M402.3,101.56 H398.6 M402.3,98.12 H398.6 M402.3,94.69 H398.6 M402.3,87.81 H398.6 M402.3,84.38 H398.6 M402.3,80.94 H398.6 M402.3,74.06 H398.6 M402.3,70.62 H398.6 M402.3,67.19 H398.6 M402.3,60.31 H398.6 M402.3,56.88 H398.6 M402.3,53.44 H398.6 M402.3,46.56 H398.6 M402.3,43.12 H398.6 M402.3,39.69 H398.6 M402.3,32.81 H398.6 M402.3,29.38 H398.6 M402.3,25.94 H398.6" stroke="#9c9c9c" stroke-width="1.0" fill="none"/>
<text transform="translate(402.65,149.65) scale(1,1.06)" font-size="9" text-anchor="middle">−15</text>
<text transform="translate(424.3,149.65) scale(1,1.06)" font-size="9" text-anchor="middle">−10</text>
<text transform="translate(445.95,149.65) scale(1,1.06)" font-size="9" text-anchor="middle">−5</text>
<text transform="translate(469.2,149.65) scale(1,1.06)" font-size="9" text-anchor="middle">0</text>
<text transform="translate(490.85,149.65) scale(1,1.06)" font-size="9" text-anchor="middle">5</text>
<text transform="translate(512.5,149.65) scale(1,1.06)" font-size="9" text-anchor="middle">10</text>
<text transform="translate(534.15,149.65) scale(1,1.06)" font-size="9" text-anchor="middle">15</text>
<text transform="translate(395.4,25) scale(1,1.06)" font-size="9" text-anchor="end">−6</text>
<text transform="translate(395.4,38.75) scale(1,1.06)" font-size="9" text-anchor="end">−8</text>
<text transform="translate(395.4,52.5) scale(1,1.06)" font-size="9" text-anchor="end">−10</text>
<text transform="translate(395.4,66.25) scale(1,1.06)" font-size="9" text-anchor="end">−12</text>
<text transform="translate(395.4,80) scale(1,1.06)" font-size="9" text-anchor="end">−14</text>
<text transform="translate(395.4,93.75) scale(1,1.06)" font-size="9" text-anchor="end">−16</text>
<text transform="translate(395.4,107.5) scale(1,1.06)" font-size="9" text-anchor="end">−18</text>
<text transform="translate(395.4,121.25) scale(1,1.06)" font-size="9" text-anchor="end">−20</text>
<text transform="translate(395.4,135) scale(1,1.06)" font-size="9" text-anchor="end">−22</text>
<rect x="39.3" y="187.3" width="140.4" height="93.5" fill="none" stroke="#1a1a1a" stroke-width="1.25"/>
<path d="M39.6,280.8 V285.2 M62.7,280.8 V285.2 M85.8,280.8 V285.2 M108.9,280.8 V285.2 M132,280.8 V285.2 M155.1,280.8 V285.2 M178.2,280.8 V285.2 M39.3,281.5 H35.7 M39.3,257.95 H35.7 M39.3,234.4 H35.7 M39.3,210.85 H35.7 M39.3,187.3 H35.7" stroke="#1a1a1a" stroke-width="1.3" fill="none"/>
<path d="M44.22,280.8 V283.5 M48.84,280.8 V283.5 M53.46,280.8 V283.5 M58.08,280.8 V283.5 M67.32,280.8 V283.5 M71.94,280.8 V283.5 M76.56,280.8 V283.5 M81.18,280.8 V283.5 M90.42,280.8 V283.5 M95.04,280.8 V283.5 M99.66,280.8 V283.5 M104.28,280.8 V283.5 M113.52,280.8 V283.5 M118.14,280.8 V283.5 M122.76,280.8 V283.5 M127.38,280.8 V283.5 M136.62,280.8 V283.5 M141.24,280.8 V283.5 M145.86,280.8 V283.5 M150.48,280.8 V283.5 M159.72,280.8 V283.5 M164.34,280.8 V283.5 M168.96,280.8 V283.5 M173.58,280.8 V283.5 M39.3,269.73 H36.7 M39.3,246.18 H36.7 M39.3,222.62 H36.7 M39.3,199.07 H36.7" stroke="#9c9c9c" stroke-width="1.0" fill="none"/>
<text transform="translate(36.4,293.8) scale(1,1.06)" font-size="8.7" text-anchor="middle">−15</text>
<text transform="translate(60.2,293.8) scale(1,1.06)" font-size="8.7" text-anchor="middle">−10</text>
<text transform="translate(83.3,293.8) scale(1,1.06)" font-size="8.7" text-anchor="middle">−5</text>
<text transform="translate(108.9,293.8) scale(1,1.06)" font-size="8.7" text-anchor="middle">0</text>
<text transform="translate(132,293.8) scale(1,1.06)" font-size="8.7" text-anchor="middle">5</text>
<text transform="translate(155.1,293.8) scale(1,1.06)" font-size="8.7" text-anchor="middle">10</text>
<text transform="translate(178.2,293.8) scale(1,1.06)" font-size="8.7" text-anchor="middle">15</text>
<text transform="translate(35.5,190.4) scale(1,1.06)" font-size="9.2" text-anchor="end">0.2</text>
<text transform="translate(35.5,213.95) scale(1,1.06)" font-size="9.2" text-anchor="end">0.1</text>
<text transform="translate(35.5,237.5) scale(1,1.06)" font-size="9.2" text-anchor="end">0</text>
<text transform="translate(35.5,261.05) scale(1,1.06)" font-size="9.2" text-anchor="end">−0.1</text>
<text transform="translate(35.5,284.6) scale(1,1.06)" font-size="9.2" text-anchor="end">−0.2</text>
<rect x="222.5" y="187.3" width="140.8" height="93.5" fill="none" stroke="#1a1a1a" stroke-width="1.25"/>
<path d="M222.9,280.8 V285.2 M246,280.8 V285.2 M269.1,280.8 V285.2 M292.2,280.8 V285.2 M315.3,280.8 V285.2 M338.4,280.8 V285.2 M361.5,280.8 V285.2 M222.5,281.5 H218.9 M222.5,257.95 H218.9 M222.5,234.4 H218.9 M222.5,210.85 H218.9 M222.5,187.3 H218.9" stroke="#1a1a1a" stroke-width="1.3" fill="none"/>
<path d="M227.52,280.8 V283.5 M232.14,280.8 V283.5 M236.76,280.8 V283.5 M241.38,280.8 V283.5 M250.62,280.8 V283.5 M255.24,280.8 V283.5 M259.86,280.8 V283.5 M264.48,280.8 V283.5 M273.72,280.8 V283.5 M278.34,280.8 V283.5 M282.96,280.8 V283.5 M287.58,280.8 V283.5 M296.82,280.8 V283.5 M301.44,280.8 V283.5 M306.06,280.8 V283.5 M310.68,280.8 V283.5 M319.92,280.8 V283.5 M324.54,280.8 V283.5 M329.16,280.8 V283.5 M333.78,280.8 V283.5 M343.02,280.8 V283.5 M347.64,280.8 V283.5 M352.26,280.8 V283.5 M356.88,280.8 V283.5 M222.5,269.73 H219.9 M222.5,246.18 H219.9 M222.5,222.62 H219.9 M222.5,199.07 H219.9" stroke="#9c9c9c" stroke-width="1.0" fill="none"/>
<text transform="translate(220.4,293.8) scale(1,1.06)" font-size="8.7" text-anchor="middle">−15</text>
<text transform="translate(243.5,293.8) scale(1,1.06)" font-size="8.7" text-anchor="middle">−10</text>
<text transform="translate(266.6,293.8) scale(1,1.06)" font-size="8.7" text-anchor="middle">−5</text>
<text transform="translate(292.2,293.8) scale(1,1.06)" font-size="8.7" text-anchor="middle">0</text>
<text transform="translate(315.3,293.8) scale(1,1.06)" font-size="8.7" text-anchor="middle">5</text>
<text transform="translate(338.4,293.8) scale(1,1.06)" font-size="8.7" text-anchor="middle">10</text>
<text transform="translate(361.5,293.8) scale(1,1.06)" font-size="8.7" text-anchor="middle">15</text>
<text transform="translate(218.7,190.4) scale(1,1.06)" font-size="9.2" text-anchor="end">0.2</text>
<text transform="translate(218.7,213.95) scale(1,1.06)" font-size="9.2" text-anchor="end">0.1</text>
<text transform="translate(218.7,237.5) scale(1,1.06)" font-size="9.2" text-anchor="end">0</text>
<text transform="translate(218.7,261.05) scale(1,1.06)" font-size="9.2" text-anchor="end">−0.1</text>
<text transform="translate(218.7,284.6) scale(1,1.06)" font-size="9.2" text-anchor="end">−0.2</text>
<rect x="402.5" y="187.3" width="141" height="93.5" fill="none" stroke="#1a1a1a" stroke-width="1.25"/>
<path d="M402.8,280.8 V285.2 M426,280.8 V285.2 M449.2,280.8 V285.2 M472.4,280.8 V285.2 M495.6,280.8 V285.2 M518.8,280.8 V285.2 M542,280.8 V285.2 M402.5,281.5 H398.9 M402.5,257.95 H398.9 M402.5,234.4 H398.9 M402.5,210.85 H398.9 M402.5,187.3 H398.9" stroke="#1a1a1a" stroke-width="1.3" fill="none"/>
<path d="M407.44,280.8 V283.5 M412.08,280.8 V283.5 M416.72,280.8 V283.5 M421.36,280.8 V283.5 M430.64,280.8 V283.5 M435.28,280.8 V283.5 M439.92,280.8 V283.5 M444.56,280.8 V283.5 M453.84,280.8 V283.5 M458.48,280.8 V283.5 M463.12,280.8 V283.5 M467.76,280.8 V283.5 M477.04,280.8 V283.5 M481.68,280.8 V283.5 M486.32,280.8 V283.5 M490.96,280.8 V283.5 M500.24,280.8 V283.5 M504.88,280.8 V283.5 M509.52,280.8 V283.5 M514.16,280.8 V283.5 M523.44,280.8 V283.5 M528.08,280.8 V283.5 M532.72,280.8 V283.5 M537.36,280.8 V283.5 M402.5,269.73 H399.9 M402.5,246.18 H399.9 M402.5,222.62 H399.9 M402.5,199.07 H399.9" stroke="#9c9c9c" stroke-width="1.0" fill="none"/>
<text transform="translate(400.3,293.8) scale(1,1.06)" font-size="8.7" text-anchor="middle">−15</text>
<text transform="translate(423.5,293.8) scale(1,1.06)" font-size="8.7" text-anchor="middle">−10</text>
<text transform="translate(446.7,293.8) scale(1,1.06)" font-size="8.7" text-anchor="middle">−5</text>
<text transform="translate(472.4,293.8) scale(1,1.06)" font-size="8.7" text-anchor="middle">0</text>
<text transform="translate(495.6,293.8) scale(1,1.06)" font-size="8.7" text-anchor="middle">5</text>
<text transform="translate(518.8,293.8) scale(1,1.06)" font-size="8.7" text-anchor="middle">10</text>
<text transform="translate(542,293.8) scale(1,1.06)" font-size="8.7" text-anchor="middle">15</text>
<text transform="translate(398.7,190.4) scale(1,1.06)" font-size="9.2" text-anchor="end">0.2</text>
<text transform="translate(398.7,213.95) scale(1,1.06)" font-size="9.2" text-anchor="end">0.1</text>
<text transform="translate(398.7,237.5) scale(1,1.06)" font-size="9.2" text-anchor="end">0</text>
<text transform="translate(398.7,261.05) scale(1,1.06)" font-size="9.2" text-anchor="end">−0.1</text>
<text transform="translate(398.7,284.6) scale(1,1.06)" font-size="9.2" text-anchor="end">−0.2</text>
<text transform="translate(17.4,12.6) scale(1,1.06)" font-size="13.5" text-anchor="start" style="stroke-width:0.5px">a</text>
<text transform="translate(200.4,14.1) scale(1,1.06)" font-size="13.5" text-anchor="start" style="stroke-width:0.5px">b</text>
<text transform="translate(379.4,12.6) scale(1,1.06)" font-size="13.5" text-anchor="start" style="stroke-width:0.5px">c</text>
<text transform="translate(18.9,172.4) scale(1,1.06)" font-size="13.5" text-anchor="start" style="stroke-width:0.5px">d</text>
<text transform="translate(202.4,172.1) scale(1,1.06)" font-size="13.5" text-anchor="start" style="stroke-width:0.5px">e</text>
<text transform="translate(385.7,172.4) scale(1,1.06)" font-size="13.5" text-anchor="start" style="stroke-width:0.5px">f</text>
<text transform="translate(82,159.6) scale(1,1.06)" font-size="7.9" text-anchor="start" textLength="41.4" lengthAdjust="spacingAndGlyphs">Offset [km]</text>
<text transform="translate(265.2,159.6) scale(1,1.06)" font-size="7.9" text-anchor="start" textLength="42" lengthAdjust="spacingAndGlyphs">Offset [km]</text>
<text transform="translate(444.6,159.6) scale(1,1.06)" font-size="7.9" text-anchor="start" textLength="40.8" lengthAdjust="spacingAndGlyphs">Offset [km]</text>
<text transform="translate(92.6,299.6) scale(1,1.06)" font-size="7.9" text-anchor="start" textLength="42" lengthAdjust="spacingAndGlyphs">Offset [km]</text>
<text transform="translate(276.5,299.8) scale(1,1.06)" font-size="7.9" text-anchor="start" textLength="41.3" lengthAdjust="spacingAndGlyphs">Offset [km]</text>
<text transform="translate(456.2,299.6) scale(1,1.06)" font-size="7.9" text-anchor="start" textLength="42.6" lengthAdjust="spacingAndGlyphs">Offset [km]</text>
<text transform="translate(12.9,132.9) rotate(-90)" x="0" y="0" font-size="8.7" textLength="106.8" lengthAdjust="spacingAndGlyphs">Amplitude (log 10 V/Am2)</text>
<text transform="translate(195.2,133.5) rotate(-90)" x="0" y="0" font-size="8.7" textLength="107.3" lengthAdjust="spacingAndGlyphs">Amplitude (log 10 V/Am2)</text>
<text transform="translate(375.7,127.6) rotate(-90)" x="0" y="0" font-size="8.7" textLength="105.5" lengthAdjust="spacingAndGlyphs">Amplitude (log 10 V/Am2)</text>
<text transform="translate(17.3,290.8) rotate(-90)" x="0" y="0" font-size="8.2" textLength="114.5" lengthAdjust="spacingAndGlyphs">Normalized Amplitude (log 10)</text>
<text transform="translate(200.1,291.6) rotate(-90)" x="0" y="0" font-size="8.2" textLength="115.2" lengthAdjust="spacingAndGlyphs">Normalized Amplitude (log 10)</text>
<text transform="translate(380.1,292) rotate(-90)" x="0" y="0" font-size="8.2" textLength="115.6" lengthAdjust="spacingAndGlyphs">Normalized Amplitude (log 10)</text>
<text transform="translate(42.8,28.4) scale(1,1.06)" font-size="7" text-anchor="start" textLength="47.4" lengthAdjust="spacingAndGlyphs">Tow direction:</text>
<path d="M89.7,26 H94.7" stroke="#000" stroke-width="1.7"/>
<path d="M100.4,26 L94.2,23.3 L94.2,28.7 Z" fill="#000"/>
<text transform="translate(225,30.9) scale(1,1.06)" font-size="7" text-anchor="start" textLength="48" lengthAdjust="spacingAndGlyphs">Tow direction:</text>
<path d="M272.5,29 H277.1" stroke="#000" stroke-width="1.7"/>
<path d="M282.8,29 L276.6,26.3 L276.6,31.7 Z" fill="#000"/>
<text transform="translate(404.8,30.5) scale(1,1.06)" font-size="7" text-anchor="start" textLength="47" lengthAdjust="spacingAndGlyphs">Tow direction:</text>
<path d="M451.3,28.5 H456.2" stroke="#000" stroke-width="1.7"/>
<path d="M461.9,28.5 L455.7,25.8 L455.7,31.2 Z" fill="#000"/>
<text transform="translate(145,26.8) scale(1,1.06)" font-size="6.9" text-anchor="start" textLength="32" lengthAdjust="spacingAndGlyphs">Fq=7.5 Hz</text>
<text transform="translate(324.5,29.5) scale(1,1.06)" font-size="6.9" text-anchor="start" textLength="36.5" lengthAdjust="spacingAndGlyphs">Fq=17.0 Hz</text>
<text transform="translate(503,30) scale(1,1.06)" font-size="6.9" text-anchor="start" textLength="36" lengthAdjust="spacingAndGlyphs">Fq=30.0 Hz</text>
<text transform="translate(40.5,193.5) scale(1,1.06)" font-size="6.4" text-anchor="start" style="stroke-width:0.15px" textLength="11.1" lengthAdjust="spacingAndGlyphs">Tow</text>
<text transform="translate(40,200.9) scale(1,1.06)" font-size="6.3" text-anchor="start" style="stroke-width:0.15px" textLength="28" lengthAdjust="spacingAndGlyphs">direction:</text>
<path d="M48.5,203.2 H52.8" stroke="#000" stroke-width="1.3"/>
<path d="M56.7,203.2 L52.3,201.2 L52.3,205.2 Z" fill="#000"/>
<text transform="translate(223.7,193.5) scale(1,1.06)" font-size="6.6" text-anchor="start">Tow</text>
<text transform="translate(224,200.9) scale(1,1.06)" font-size="6.2" text-anchor="start" textLength="28.5" lengthAdjust="spacingAndGlyphs">direction:</text>
<path d="M233,204.9 H237.9" stroke="#000" stroke-width="1.3"/>
<path d="M241.8,204.9 L237.4,202.9 L237.4,206.9 Z" fill="#000"/>
<text transform="translate(403.7,193.5) scale(1,1.06)" font-size="6.6" text-anchor="start">Tow</text>
<text transform="translate(404,200.9) scale(1,1.06)" font-size="6.2" text-anchor="start" textLength="28.5" lengthAdjust="spacingAndGlyphs">direction:</text>
<path d="M413,204.9 H417.9" stroke="#000" stroke-width="1.3"/>
<path d="M421.8,204.9 L417.4,202.9 L417.4,206.9 Z" fill="#000"/>
<text transform="translate(150,194.3) scale(1,1.06)" font-size="6.5" text-anchor="start" textLength="29" lengthAdjust="spacingAndGlyphs">Fq=7.5 Hz</text>
<text transform="translate(328.5,195) scale(1,1.06)" font-size="6.5" text-anchor="start" textLength="34.5" lengthAdjust="spacingAndGlyphs">Fq=17.0 Hz</text>
<text transform="translate(508,195) scale(1,1.06)" font-size="6.5" text-anchor="start" textLength="35" lengthAdjust="spacingAndGlyphs">Fq=30.0 Hz</text>
<circle cx="43.8" cy="258.6" r="2.0" fill="#1010ff"/>
<text transform="translate(47,260.7) scale(1,1.06)" font-size="5" text-anchor="start" style="stroke-width:0.32px" textLength="18" lengthAdjust="spacingAndGlyphs">BC 2027</text>
<circle cx="43.8" cy="263.8" r="2.0" fill="#ff1038"/>
<text transform="translate(47,265.9) scale(1,1.06)" font-size="5" text-anchor="start" style="stroke-width:0.32px" textLength="13.2" lengthAdjust="spacingAndGlyphs">MC 32</text>
<circle cx="43.8" cy="269" r="2.0" fill="#9a30f0"/>
<text transform="translate(47,271.1) scale(1,1.06)" font-size="5" text-anchor="start" style="stroke-width:0.32px" textLength="13.2" lengthAdjust="spacingAndGlyphs">MC 42</text>
<circle cx="43.8" cy="274.2" r="2.0" fill="#a81010"/>
<text transform="translate(47,276.3) scale(1,1.06)" font-size="5" text-anchor="start" style="stroke-width:0.32px" textLength="13.2" lengthAdjust="spacingAndGlyphs">MC 57</text>
</svg></body></html>
